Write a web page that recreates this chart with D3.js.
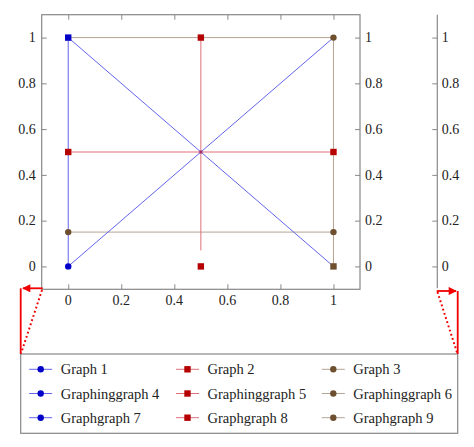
<!DOCTYPE html>
<html>
<head>
<meta charset="UTF-8">
</head>
<body style="margin:0">
<script src="https://d3js.org/d3.v7.min.js"></script>
<script>
// ticks used on every axis
var tickVals = [0, 0.2, 0.4, 0.6, 0.8, 1];

// legend entries (3 columns, filled row by row)
var legendNames = ["Graph 1", "Graph 2", "Graph 3",
                   "Graphinggraph 4", "Graphinggraph 5", "Graphinggraph 6",
                   "Graphgraph 7", "Graphgraph 8", "Graphgraph 9"];

// lines, per colour
var blueLines  = [[[1, 1], [0, 0], [0, 1], [1, 0]]];
var redLines   = [[[0, 0.5], [1, 0.5]], [[0.5, 1], [0.5, 0.07]]];
var brownLines = [[[0, 1], [1, 1], [1, 0]], [[0, 0.15], [1, 0.15]]];

// markers
var blueCircles  = [[0, 0]];
var blueSquares  = [[0, 1]];
var redSquares   = [[0.5, 1], [0.5, 0], [0, 0.5], [1, 0.5]];
var brownCircles = [[0, 0.15], [1, 0.15], [1, 1]];
var brownSquares = [[1, 0]];
var centerMarks  = [[0.5, 0.5]];

var col = {
  blueLine: "#6464ec", blueMark: "#0000c8",
  redLine: "#e0707a", redMark: "#b40000",
  brownLine: "#b4a494", brownMark: "#6e5030"
};
var FONT = "Liberation Serif";

var W = 474, H = 447;
var svg = d3.select("body").append("svg").attr("width", W).attr("height", H);

var x = d3.scaleLinear().domain([-0.1, 1.1]).range([41.7, 360]);
var y = d3.scaleLinear().domain([-0.1, 1.1]).range([289.3, 14.7]);
var fmt = function (d) { return String(+d.toFixed(1)); };

// plot lines
var line = d3.line().x(function (d) { return x(d[0]); }).y(function (d) { return y(d[1]); });
function drawLines(data, color) {
  svg.append("g").selectAll("path").data(data).enter().append("path")
    .attr("d", line).attr("fill", "none").attr("stroke", color).attr("stroke-width", 1);
}
drawLines(brownLines, col.brownLine);
drawLines(redLines, col.redLine);
drawLines(blueLines, col.blueLine);

function drawCircles(data, color) {
  svg.append("g").selectAll("circle").data(data).enter().append("circle")
    .attr("cx", function (d) { return x(d[0]); }).attr("cy", function (d) { return y(d[1]); })
    .attr("r", 3.2).attr("fill", color);
}
function drawSquares(data, color, s) {
  svg.append("g").selectAll("rect").data(data).enter().append("rect")
    .attr("x", function (d) { return x(d[0]) - s / 2; }).attr("y", function (d) { return y(d[1]) - s / 2; })
    .attr("width", s).attr("height", s).attr("fill", color);
}
drawCircles(blueCircles, col.blueMark);
drawSquares(blueSquares, col.blueMark, 6.4);
drawSquares(redSquares, col.redMark, 6.4);
drawCircles(brownCircles, col.brownMark);
drawSquares(brownSquares, col.brownMark, 6.4);
drawSquares(centerMarks, "#a0306a", 3);

// axes: tick lines from d3, labels drawn by hand so the font sticks
function styleAxis(g) {
  g.select(".domain").remove();
  g.selectAll("line").attr("stroke", "#888").attr("stroke-width", 1);
  g.selectAll("text").remove();
}
function labels(list, px, py, anchor, dy) {
  list.forEach(function (v) {
    svg.append("text").attr("x", px(v)).attr("y", py(v)).attr("text-anchor", anchor).attr("dy", dy)
      .style("font-family", FONT).style("font-size", "14px").style("fill", "#222").text(fmt(v));
  });
}
svg.append("g").attr("transform", "translate(0," + y(-0.1) + ")")
  .call(d3.axisBottom(x).tickValues(tickVals).tickSize(-5)).call(styleAxis);
svg.append("g").attr("transform", "translate(0," + y(1.1) + ")")
  .call(d3.axisTop(x).tickValues(tickVals).tickSize(-5)).call(styleAxis);
svg.append("g").attr("transform", "translate(" + x(-0.1) + ",0)")
  .call(d3.axisLeft(y).tickValues(tickVals).tickSize(-5)).call(styleAxis);
svg.append("g").attr("transform", "translate(" + x(1.1) + ",0)")
  .call(d3.axisRight(y).tickValues(tickVals).tickSize(-5)).call(styleAxis);

labels(tickVals, x, function () { return y(-0.1) + 15.5; }, "middle", 0);
labels(tickVals, function () { return x(-0.1) - 6; }, y, "end", "0.33em");
labels(tickVals, function () { return x(1.1) + 5; }, y, "start", "0.33em");

svg.append("rect")
  .attr("x", x(-0.1)).attr("y", y(1.1))
  .attr("width", x(1.1) - x(-0.1)).attr("height", y(-0.1) - y(1.1))
  .attr("fill", "none").attr("stroke", "#888").attr("stroke-width", 1.2);

// second, standalone y axis
var ax2 = 437.3;
svg.append("g").attr("transform", "translate(" + ax2 + ",0)")
  .call(d3.axisRight(y).tickValues(tickVals).tickSize(-5)).call(styleAxis);
labels(tickVals, function () { return ax2 + 4.4; }, y, "start", "0.33em");
svg.append("line").attr("x1", ax2).attr("x2", ax2).attr("y1", y(1.1)).attr("y2", y(-0.1) - 1)
  .attr("stroke", "#888").attr("stroke-width", 1.2);

// legend box
var lg = {x0: 20.7, x1: 457.7, y0: 354, y1: 433.3};
svg.append("rect").attr("x", lg.x0).attr("y", lg.y0)
  .attr("width", lg.x1 - lg.x0).attr("height", lg.y1 - lg.y0)
  .attr("fill", "#fff").attr("stroke", "#888").attr("stroke-width", 1.2);

var colX = [40.7, 187.5, 333.3];
var rowY = [369.3, 393.5, 417.7];
var legLine = [col.blueLine, col.redLine, col.brownLine];
var legMark = [col.blueMark, col.redMark, col.brownMark];
legendNames.forEach(function (name, i) {
  var c = i % 3, r = Math.floor(i / 3);
  var cx = colX[c], cy = rowY[r];
  svg.append("line").attr("x1", cx - 11.5).attr("x2", cx + 11.5).attr("y1", cy).attr("y2", cy)
    .attr("stroke", legLine[c]).attr("stroke-width", 1);
  if (c === 1) {
    svg.append("rect").attr("x", cx - 3.2).attr("y", cy - 3.2).attr("width", 6.4).attr("height", 6.4)
      .attr("fill", legMark[c]);
  } else {
    svg.append("circle").attr("cx", cx).attr("cy", cy).attr("r", 3.2).attr("fill", legMark[c]);
  }
  svg.append("text").attr("x", cx + 20).attr("y", cy + 5)
    .style("font-family", FONT).style("font-size", "14.5px").style("fill", "#222").text(name);
});

// red connector arrows from axes to legend
var red = "#f00000";
svg.append("defs").append("marker").attr("id", "ah")
  .attr("viewBox", "0 0 10 10").attr("refX", 9).attr("refY", 5)
  .attr("markerWidth", 5).attr("markerHeight", 4.5).attr("orient", "auto")
  .append("path").attr("d", "M0,0 L10,5 L0,10 Z").attr("fill", red);

// left
svg.append("path").attr("d", "M" + lg.x0 + "," + lg.y0 + " L" + lg.x0 + ",288.3")
  .attr("stroke", red).attr("stroke-width", 1.8).attr("fill", "none");
svg.append("path").attr("d", "M42.7,288.3 L23,288.3")
  .attr("stroke", red).attr("stroke-width", 1.8).attr("fill", "none").attr("marker-end", "url(#ah)");
svg.append("line").attr("x1", 42).attr("y1", 290).attr("x2", 21.2).attr("y2", 353)
  .attr("stroke", red).attr("stroke-width", 2).attr("stroke-dasharray", "1.8,2.6");
// right
svg.append("path").attr("d", "M" + lg.x1 + "," + lg.y0 + " L" + lg.x1 + ",291")
  .attr("stroke", red).attr("stroke-width", 1.8).attr("fill", "none");
svg.append("path").attr("d", "M436.7,291 L456,291")
  .attr("stroke", red).attr("stroke-width", 1.8).attr("fill", "none").attr("marker-end", "url(#ah)");
svg.append("line").attr("x1", 437.5).attr("y1", 292).attr("x2", 457.2).attr("y2", 353)
  .attr("stroke", red).attr("stroke-width", 2).attr("stroke-dasharray", "1.8,2.6");
</script>
</body>
</html>
